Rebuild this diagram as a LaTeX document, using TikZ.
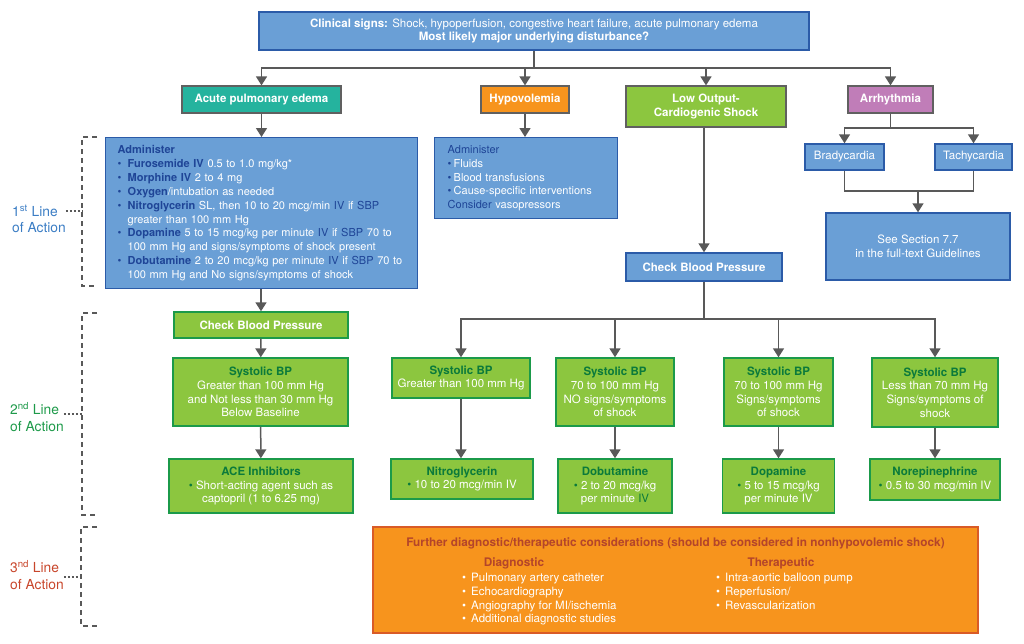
\documentclass[tikz,border=0pt]{standalone}
\usepackage{fontspec}
\setmainfont{TeX Gyre Heros}
\usetikzlibrary{arrows.meta, positioning, calc}

\definecolor{boxblue}{HTML}{6A9FD6}
\definecolor{edgeblue}{HTML}{2B5BA8}
\definecolor{txtblue}{HTML}{1F4597}
\definecolor{boxgreen}{HTML}{8CC63F}
\definecolor{edgegreen}{HTML}{1B9A4A}
\definecolor{txtgreen}{HTML}{0B7A3B}
\definecolor{boxteal}{HTML}{25B39E}
\definecolor{boxorange}{HTML}{F7941D}
\definecolor{edgeorange}{HTML}{D95B27}
\definecolor{txtbrown}{HTML}{B4452A}
\definecolor{boxpurple}{HTML}{C07DB8}
\definecolor{arrowgray}{HTML}{595959}
\definecolor{labblue}{HTML}{3B7DC4}
\definecolor{labgreen}{HTML}{1E9A4A}
\definecolor{labred}{HTML}{C8462B}

\newcommand{\drugb}[1]{\textcolor{txtblue}{\bfseries #1}}
\newcommand{\noteb}[1]{\textcolor{txtblue}{#1}}
\newcommand{\druggr}[1]{\textcolor{txtgreen}{\bfseries #1}}
\newcommand{\bulb}{\makebox[10pt][l]{\textcolor{txtblue}{\textbullet}}}
\newcommand{\bulbt}{\makebox[6pt][l]{\textcolor{txtblue}{\textbullet}}}
\newcommand{\bulg}{\textcolor{txtgreen}{\textbullet}\ }
\newcommand{\bulw}{\makebox[9pt][l]{\textbullet}}

\tikzset{
  bluebox/.style={draw=edgeblue, fill=boxblue, line width=1.4pt, text=white, inner sep=0pt, align=center},
  greenbox/.style={draw=edgegreen, fill=boxgreen, line width=1.4pt, text=white, inner sep=0pt, align=center},
  catbox/.style={draw=gray!75!black, line width=1.2pt, text=white, font=\fontsize{11.5}{13.8}\selectfont\bfseries, inner sep=0pt, align=center},
  conn/.style={arrowgray, line width=1.5pt},
  arr/.style={conn, -{Triangle[width=11pt,length=9pt]}},
  bracket/.style={gray!70!black, line width=1.1pt, dash pattern=on 5pt off 4pt},
  dotline/.style={gray!70!black, line width=1.1pt, dash pattern=on 2pt off 2pt},
  linelabel/.style={font=\fontsize{13.8}{16.5}\selectfont, align=left, anchor=west, inner sep=0pt}
}

\begin{document}
\begin{tikzpicture}[x=1pt, y=-1pt, font=\fontsize{11.5}{13.8}\selectfont]
  \useasboundingbox (0,0) rectangle (1024,643);

  % top question
  \node[bluebox, minimum width=550pt, minimum height=38pt] (signs) at (534,31)
    {\textbf{Clinical signs:} Shock, hypoperfusion, congestive heart failure, acute pulmonary edema\\
     \textbf{Most likely major underlying disturbance?}};

  % disturbances
  \node[catbox, fill=boxteal, minimum width=159pt, minimum height=27pt] (ape) at (261.5,99.5) {Acute pulmonary edema};
  \node[catbox, fill=boxorange, minimum width=88pt, minimum height=27pt] (hypo) at (525,99.5) {Hypovolemia};
  \node[catbox, fill=boxgreen, minimum width=160pt, minimum height=41pt] (lowout) at (706,106.5) {Low Output-\\Cardiogenic Shock};
  \node[catbox, fill=boxpurple, minimum width=85pt, minimum height=27pt] (arrh) at (890.5,99.5) {Arrhythmia};

  \coordinate (busTop) at (534,68);
  \draw[conn] (signs) -- (busTop);
  \draw[arr] (busTop) -| (ape);
  \draw[arr] (busTop) -| (hypo);
  \draw[arr] (busTop) -| (lowout);
  \draw[arr] (busTop) -| (arrh);

  % acute pulmonary edema
  \node[bluebox, anchor=north west, align=left, text width=288pt, inner xsep=12pt, minimum height=151pt,
        font=\fontsize{11}{13.9}\selectfont] (apeplan) at (105,137)
    {\drugb{Administer}\\
     \bulb\drugb{Furosemide IV} 0.5 to 1.0 mg/kg*\\
     \bulb\drugb{Morphine IV} 2 to 4 mg\\
     \bulb\drugb{Oxygen}/intubation as needed\\
     \bulb\drugb{Nitroglycerin} SL, then 10 to 20 mcg/min \noteb{IV} if \noteb{SBP}\\
     \hspace*{10pt}greater than 100 mm Hg\\
     \bulb\drugb{Dopamine} 5 to 15 mcg/kg per minute \noteb{IV} if \noteb{SBP} 70 to\\
     \hspace*{10pt}100 mm Hg and signs/symptoms of shock present\\
     \bulb\drugb{Dobutamine} 2 to 20 mcg/kg per minute \noteb{IV} if \noteb{SBP} 70 to\\
     \hspace*{10pt}100 mm Hg and No signs/symptoms of shock};
  \node[greenbox, font=\fontsize{11.5}{13.8}\selectfont\bfseries, minimum width=174pt, minimum height=26pt] (chkL) at (261,325) {Check Blood Pressure};
  \node[greenbox, minimum width=175pt, minimum height=68pt] (sysL) at (260.5,392)
    {\druggr{Systolic BP}\\Greater than 100 mm Hg\\and Not less than 30 mm Hg\\Below Baseline};
  \node[greenbox, minimum width=184pt, minimum height=54pt] (aceL) at (261,486)
    {\druggr{ACE Inhibitors}\\\bulg Short-acting agent such as\\captopril (1 to 6.25 mg)};
  \draw[arr] (ape.south) -- (ape.south |- apeplan.north);
  \draw[arr] (apeplan.south -| chkL) -- (chkL);
  \draw[arr] (chkL) -- (sysL);
  \draw[arr] (sysL) -- (aceL);

  % hypovolemia
  \node[bluebox, anchor=north west, align=left, text width=157pt, inner xsep=13pt, minimum height=81pt,
        font=\fontsize{11}{13.8}\selectfont] (hypoplan) at (434,137)
    {\noteb{Administer}\\
     \bulbt Fluids\\
     \bulbt Blood transfusions\\
     \bulbt Cause-specific interventions\\
     \noteb{Consider} vasopressors};
  \draw[arr] (hypo) -- (hypo |- hypoplan.north);

  % low output - cardiogenic shock
  \node[bluebox, font=\fontsize{11.5}{13.8}\selectfont\bfseries, minimum width=156pt, minimum height=28pt] (chkR) at (704,267) {Check Blood Pressure};
  \draw[arr] (lowout.south -| chkR) -- (chkR);
  \node[greenbox, minimum width=138pt, minimum height=40pt] (sys1) at (461,378)
    {\druggr{Systolic BP}\\Greater than 100 mm Hg};
  \node[greenbox, minimum width=118pt, minimum height=68pt] (sys2) at (615,392)
    {\druggr{Systolic BP}\\70 to 100 mm Hg\\NO signs/symptoms\\of shock};
  \node[greenbox, minimum width=109pt, minimum height=68pt] (sys3) at (778.5,392)
    {\druggr{Systolic BP}\\70 to 100 mm Hg\\Signs/symptoms\\of shock};
  \node[greenbox, minimum width=126pt, minimum height=69pt] (sys4) at (935,392.5)
    {\druggr{Systolic BP}\\Less than 70 mm Hg\\Signs/symptoms of\\shock};
  \node[greenbox, minimum width=142pt, minimum height=40pt] (nitro) at (462,479)
    {\druggr{Nitroglycerin}\\\bulg 10 to 20 mcg/min IV};
  \node[greenbox, minimum width=114pt, minimum height=54pt] (dobu) at (615,486)
    {\druggr{Dobutamine}\\\bulg 2 to 20 mcg/kg\\per minute \textcolor{txtgreen}{IV}};
  \node[greenbox, minimum width=112pt, minimum height=54pt] (dopa) at (778.5,486)
    {\druggr{Dopamine}\\\bulg 5 to 15 mcg/kg\\per minute IV};
  \node[greenbox, minimum width=130pt, minimum height=41pt] (norepi) at (935,479.5)
    {\druggr{Norepinephrine}\\\bulg 0.5 to 30 mcg/min IV};
  \coordinate (busBP) at (704,319);
  \draw[conn] (chkR) -- (busBP);
  \foreach \s/\d in {sys1/nitro, sys2/dobu, sys3/dopa, sys4/norepi} {
    \draw[arr] (busBP) -| (\s);
    \draw[arr] (\s) -- (\s |- \d.north);
  }

  % arrhythmia
  \node[bluebox, minimum width=79pt, minimum height=26pt] (brady) at (844.5,157) {Bradycardia};
  \node[bluebox, minimum width=77pt, minimum height=26pt] (tachy) at (973.5,157) {Tachycardia};
  \node[bluebox, minimum width=184pt, minimum height=67pt] (see) at (918,246.5) {See Section 7.7\\in the full-text Guidelines};
  \coordinate (busAr) at (890.5,128);
  \coordinate (busSee) at (918,191);
  \draw[conn] (arrh) -- (busAr);
  \draw[arr] (busAr) -| (brady);
  \draw[arr] (busAr) -| (tachy);
  \draw[conn] (brady) |- (busSee);
  \draw[conn] (tachy) |- (busSee);
  \draw[arr] (busSee) -- (see);

  % further considerations
  \node[draw=edgeorange, fill=boxorange, line width=1.5pt, minimum width=605pt, minimum height=106pt] (further) at (675.5,580) {};
  \node[text=txtbrown, font=\fontsize{11.8}{13.8}\selectfont\bfseries] (furtherhd) at (675.5,543)
    {Further diagnostic/therapeutic considerations (should be considered in nonhypovolemic shock)};
  \node[text=txtbrown, font=\fontsize{11.8}{13.8}\selectfont\bfseries] (diaghd) at (514,563) {Diagnostic};
  \node[text=txtbrown, font=\fontsize{11.8}{13.8}\selectfont\bfseries] (therhd) at (781,563) {Therapeutic};
  \node[text=white, align=left, anchor=north west, inner sep=0pt] (diaglist) at (462,573)
    {\bulw Pulmonary artery catheter\\\bulw Echocardiography\\\bulw Angiography for MI/ischemia\\\bulw Additional diagnostic studies};
  \node[text=white, align=left, anchor=north west, inner sep=0pt] (therlist) at (716,573)
    {\bulw Intra-aortic balloon pump\\\bulw Reperfusion/\\\bulw Revascularization};

  % lines of action
  \node[linelabel, text=labblue] (lab1) at (12,219) {1\textsuperscript{st} Line\\of Action};
  \node[linelabel, text=labgreen] (lab2) at (10,417) {2\textsuperscript{nd} Line\\of Action};
  \node[linelabel, text=labred] (lab3) at (10,575) {3\textsuperscript{nd} Line\\of Action};
  \draw[bracket] (97,137) -- (82,137) -- (82,286) -- (97,286);
  \draw[bracket] (97,313) -- (82,313) -- (82,515) -- (97,515);
  \draw[bracket] (97,527) -- (81,527) -- (81,626) -- (97,626);
  \coordinate (tick1) at (82,211);
  \coordinate (tick2) at (82,414);
  \coordinate (tick3) at (81,577);
  \draw[dotline] (lab1.east |- tick1) -- (tick1);
  \draw[dotline] (lab2.east |- tick2) -- (tick2);
  \draw[dotline] (lab3.east |- tick3) -- (tick3);
\end{tikzpicture}
\end{document}
